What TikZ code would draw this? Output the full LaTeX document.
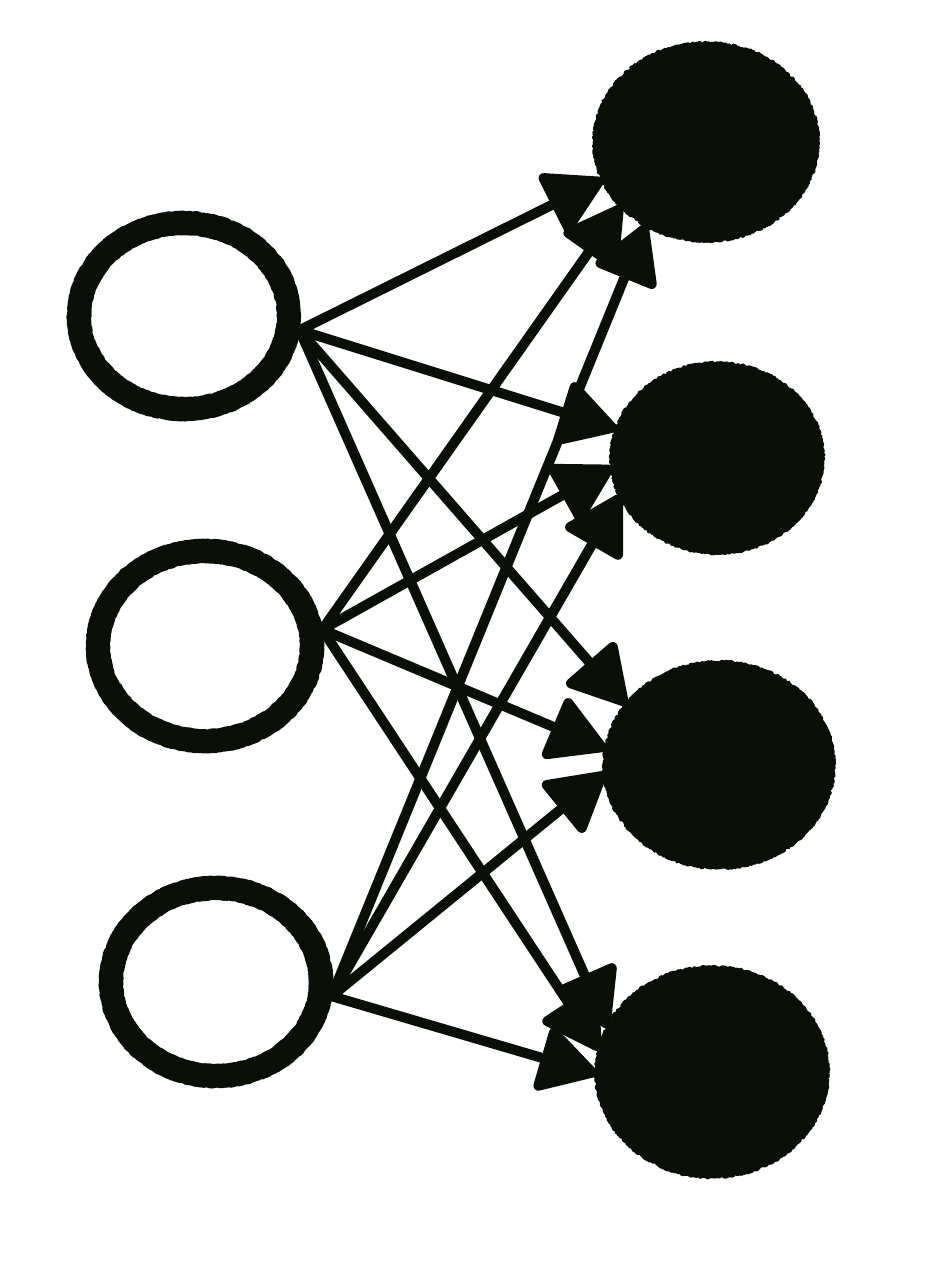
\documentclass[tikz,border=0pt]{standalone}
\usetikzlibrary{arrows.meta,shapes.geometric,decorations.pathmorphing}
\definecolor{ink}{RGB}{10,15,8}
\begin{document}
\begin{tikzpicture}[x=0.03cm,y=-0.03cm,
  inring/.style={ellipse, draw=ink, line width=0.7cm, inner sep=0pt, line join=round,
    decorate, decoration={random steps, segment length=0.8pt, amplitude=0.8pt}},
  outdisk/.style={ellipse, fill=ink, draw=ink, line width=0.14cm, inner sep=0pt, outer sep=0pt,
    line join=round,
    decorate, decoration={random steps, segment length=0.8pt, amplitude=1pt}},
  link/.style={draw=ink, line width=0.3cm, line cap=round,
    -{Triangle[length=1.9cm,width=2.1cm,round]}}]
\fill[white] (0,0) rectangle (952,1278);
\useasboundingbox (0,0) rectangle (952,1278);
% inputs
\node[inring, minimum width=6.3cm, minimum height=5.58cm] (I1) at (184,316) {};
\node[inring, minimum width=6.42cm, minimum height=5.7cm] (I2) at (205,646) {};
\node[inring, minimum width=6.3cm, minimum height=5.64cm] (I3) at (216,982) {};
% outputs
\node[outdisk, minimum width=6.66cm, minimum height=5.88cm] (O1) at (706,142) {};
\node[outdisk, minimum width=6.3cm, minimum height=5.64cm] (O2) at (717,458) {};
\node[outdisk, minimum width=6.84cm, minimum height=6.12cm] (O3) at (719,765) {};
\node[outdisk, minimum width=6.9cm, minimum height=6.24cm] (O4) at (712,1072) {};
% connectors
\draw[link] (I1.-7) -- (O1.200);
\draw[link] (I1.-7) -- (O2.164);
\draw[link] (I1.-7) -- (O3.147);
\draw[link] (I1.-7) -- (O4.157);
\draw[link] (I2.8) -- (O1.217);
\draw[link] (I2.8) -- (O2.185);
\draw[link] (I2.8) -- (O3.172);
\draw[link] (I2.8) -- (O4.169);
\draw[link] (I3.-7.5) -- (O1.234);
\draw[link] (I3.-7.5) -- (O2.201);
\draw[link] (I3.-7.5) -- (O3.184);
\draw[link] (I3.-7.5) -- (O4.181);
\end{tikzpicture}
\end{document}
